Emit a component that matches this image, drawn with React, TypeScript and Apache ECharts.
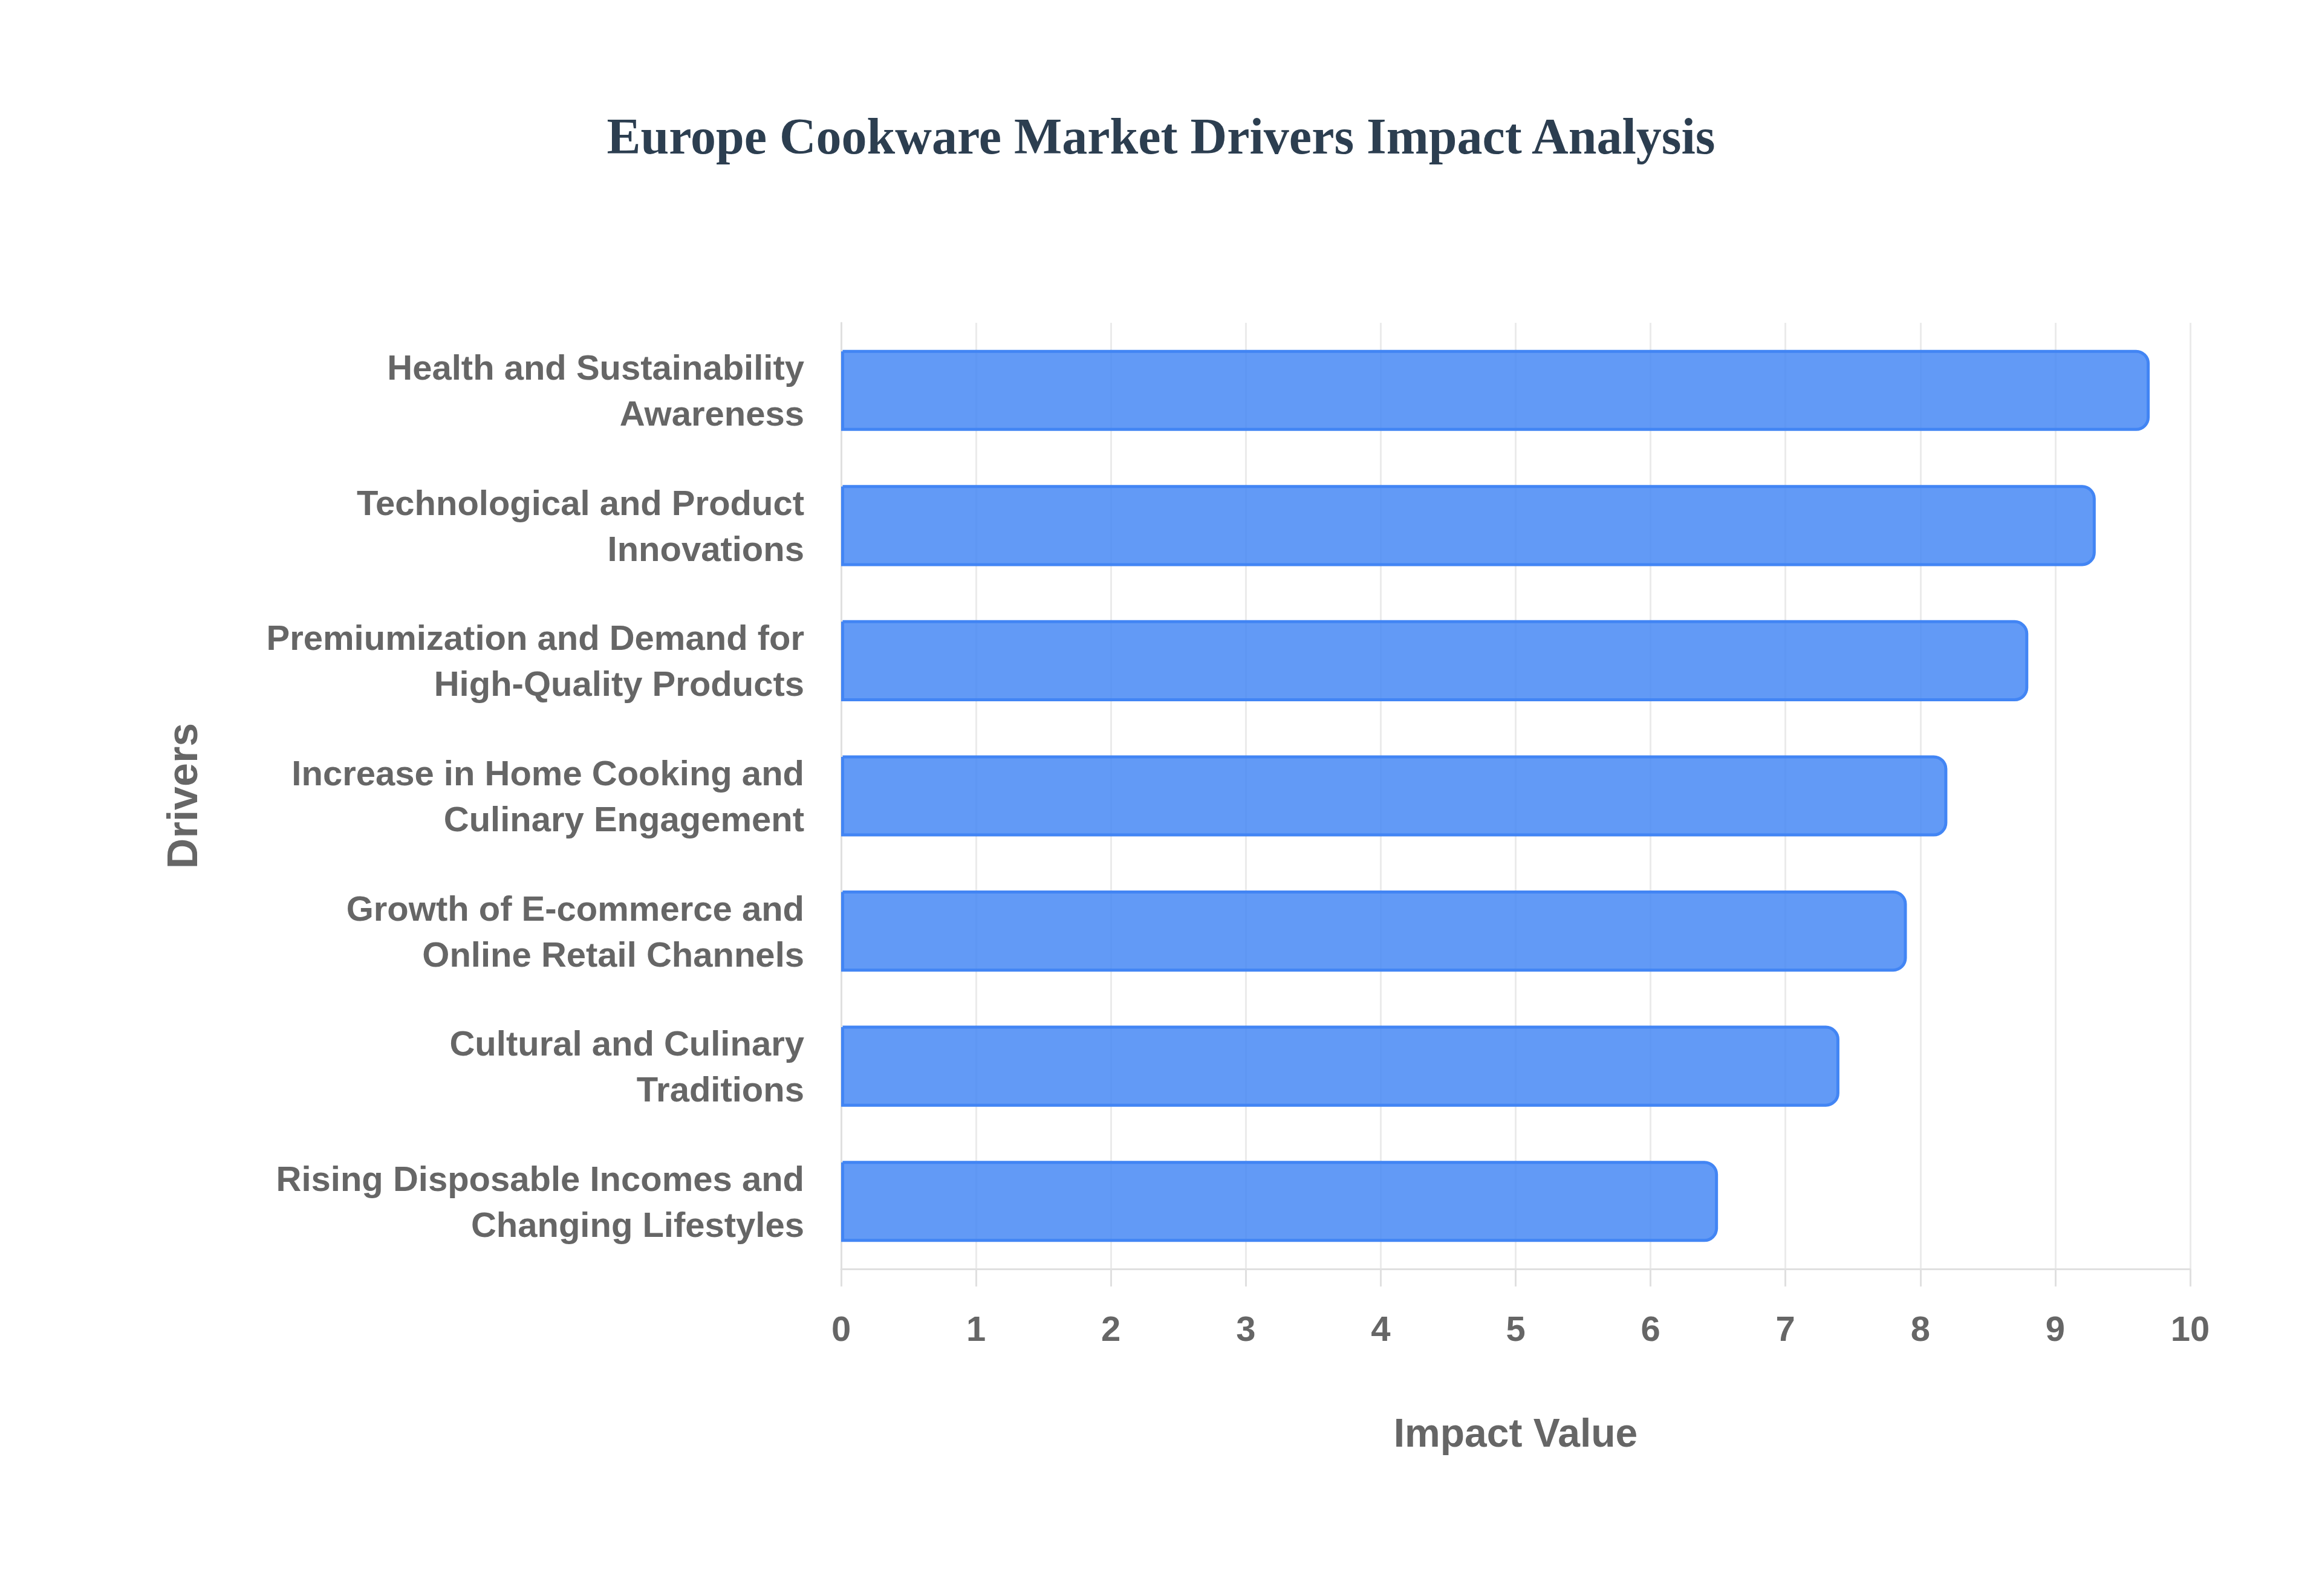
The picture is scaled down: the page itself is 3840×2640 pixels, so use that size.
import React, { useEffect, useRef } from "react";
import * as echarts from "echarts";

const titleText = "Europe Cookware Market Drivers Impact Analysis";
const xAxisName = "Impact Value";
const yAxisName = "Drivers";

const categories = [
  "Health and Sustainability\nAwareness",
  "Technological and Product\nInnovations",
  "Premiumization and Demand for\nHigh-Quality Products",
  "Increase in Home Cooking and\nCulinary Engagement",
  "Growth of E-commerce and\nOnline Retail Channels",
  "Cultural and Culinary\nTraditions",
  "Rising Disposable Incomes and\nChanging Lifestyles",
];

const impactValues = [9.7, 9.3, 8.8, 8.2, 7.9, 7.4, 6.5];

const xMin = 0;
const xMax = 10;
const xInterval = 1;

export default function App() {
  const ref = useRef<HTMLDivElement>(null);

  useEffect(() => {
    if (!ref.current) return;
    const chart = echarts.init(ref.current, undefined, { renderer: "svg" });
    const sans = "'Liberation Sans', Arial, Helvetica, sans-serif";
    chart.setOption({
      animation: false,
      backgroundColor: "#ffffff",
      title: {
        text: titleText,
        left: "center",
        top: 178,
        textStyle: {
          fontFamily: "'Liberation Serif', 'Times New Roman', serif",
          fontWeight: "bold",
          fontSize: 84,
          color: "#2c3e50",
        },
      },
      grid: {
        left: 1391,
        right: 218,
        top: 534,
        bottom: 541,
        containLabel: false,
      },
      xAxis: {
        type: "value",
        min: xMin,
        max: xMax,
        interval: xInterval,
        name: xAxisName,
        nameLocation: "middle",
        nameGap: 238,
        nameTextStyle: {
          fontFamily: sans,
          fontWeight: "bold",
          fontSize: 66,
          color: "#666666",
        },
        axisLine: { show: true, lineStyle: { color: "#e0e0e0", width: 3 } },
        axisTick: { show: true, length: 29, lineStyle: { color: "#e0e0e0", width: 3 } },
        axisLabel: {
          margin: 69,
          fontFamily: sans,
          fontWeight: "bold",
          fontSize: 58,
          color: "#666666",
        },
        splitLine: { show: true, lineStyle: { color: "#ebebeb", width: 3 } },
      },
      yAxis: {
        type: "category",
        data: categories,
        inverse: true,
        name: yAxisName,
        nameLocation: "middle",
        nameGap: 1054,
        nameTextStyle: {
          fontFamily: sans,
          fontWeight: "bold",
          fontSize: 70,
          color: "#666666",
        },
        axisLine: { show: true, lineStyle: { color: "#e0e0e0", width: 3 } },
        axisTick: { show: false },
        axisLabel: {
          margin: 61,
          align: "right",
          fontFamily: sans,
          fontWeight: "bold",
          fontSize: 58,
          lineHeight: 76,
          padding: [0, 0, 8, 0],
          color: "#666666",
        },
        splitLine: { show: false },
      },
      series: [
        {
          type: "bar",
          data: impactValues,
          barWidth: "60%",
          itemStyle: {
            color: "rgba(66,133,244,0.83)",
            borderColor: "#4285f4",
            borderWidth: 5,
            borderRadius: [0, 20, 20, 0],
          },
        },
      ],
    });
    return () => chart.dispose();
  }, []);

  return (
    <div
      ref={ref}
      style={{ position: "fixed", left: 0, top: 0, width: 3840, height: 2640 }}
    />
  );
}
